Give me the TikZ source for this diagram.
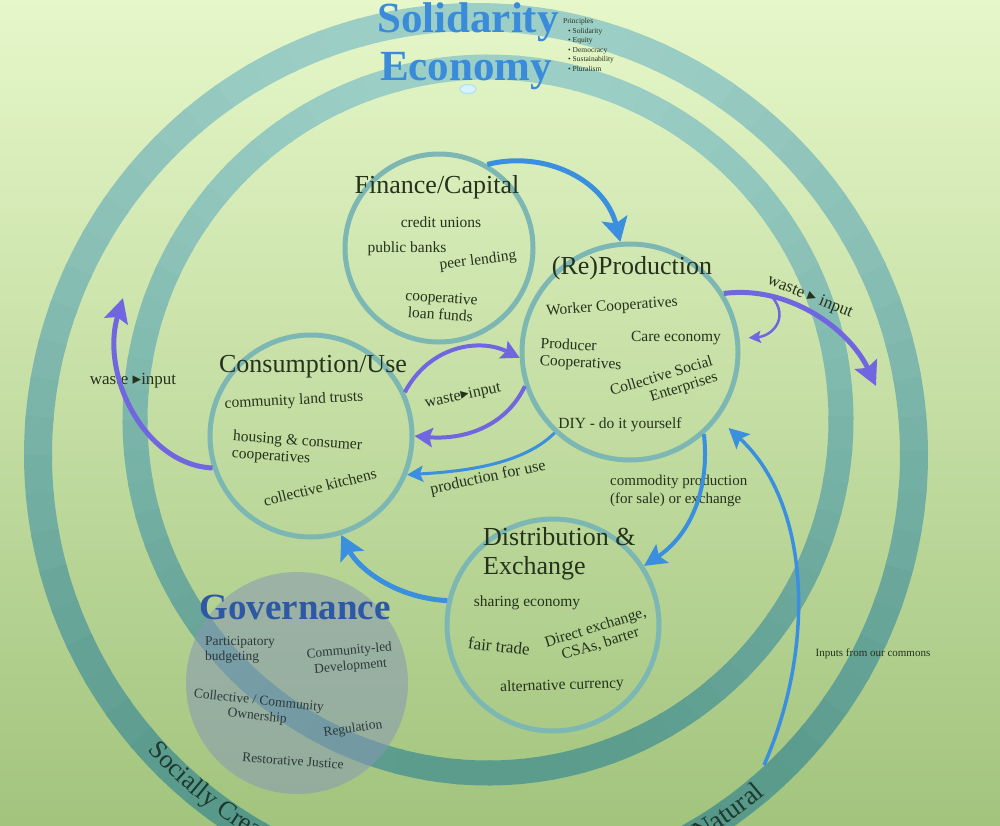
\documentclass[tikz,border=0pt]{standalone}
\usepackage{fontspec}
\usepackage{graphicx}
\setmainfont{Liberation Serif}
\newfontfamily\dejavu{DejaVu Sans}
\usetikzlibrary{arrows.meta,decorations.text,shapes.geometric}
\definecolor{bgTop}{HTML}{E6F7C9}
\definecolor{bgMid}{HTML}{D3ECB0}
\definecolor{bgBot}{HTML}{A2C47D}
\definecolor{ringTop}{HTML}{9DCFC6}
\definecolor{ringBot}{HTML}{4F9283}
\definecolor{iringTop}{HTML}{9CCFC6}
\definecolor{iringBot}{HTML}{5A9B8C}
\definecolor{secc}{HTML}{7DB7B4}
\definecolor{txtc}{HTML}{25321C}
\definecolor{bluec}{HTML}{3B8FDF}
\definecolor{purpc}{HTML}{7067E0}
\definecolor{titlec}{HTML}{3A8CDB}
\definecolor{govc}{HTML}{8698B4}
\definecolor{govt}{HTML}{2E58A6}
\definecolor{govtxt}{HTML}{2C3A3A}
\definecolor{ringtxt}{HTML}{1E3A2E}
\newcommand\tri{{\dejavu ▸}}
\begin{document}
\begin{tikzpicture}[x=1pt,y=1pt,
  txt/.style={text=txtc, inner sep=0pt},
  hd/.style={txt, font=\fontsize{26}{29}\selectfont},
  sm/.style={txt, font=\fontsize{15.5}{17}\selectfont},
  gvt/.style={text=govtxt, inner sep=0pt, font=\fontsize{13.5}{15.5}\selectfont},
  lab/.style={txt, font=\fontsize{16}{18}\selectfont},
  sec/.style={circle, draw=secc, line width=5pt, inner sep=0pt},
  bluethick/.style={draw=bluec, line width=5pt, -{Stealth[length=24pt,width=26pt,inset=5pt]}},
  bluemed/.style={draw=bluec, line width=4pt, -{Stealth[length=22pt,width=22pt,inset=4pt]}},
  bluethin/.style={draw=bluec, line width=3pt, -{Stealth[length=16pt,width=16pt,inset=3pt]}},
  bluecom/.style={draw=bluec, line width=3.5pt, -{Stealth[length=20pt,width=20pt,inset=4pt]}},
  purpthick/.style={draw=purpc, line width=5pt, -{Stealth[length=24pt,width=24pt,inset=4pt]}},
  purpmed/.style={draw=purpc, line width=4pt, -{Stealth[length=18pt,width=19pt,inset=3pt]}},
  purpthin/.style={draw=purpc, line width=2.5pt, -{Stealth[length=12pt,width=12pt,inset=2pt]}},
  ringlabel/.style={decorate, decoration={text along path, text color=ringtxt, text={#1}}}
]
\useasboundingbox (0,0) rectangle (1000,-825);
\clip (0,0) rectangle (1000,-825);
\shade[top color=bgTop, middle color=bgMid, bottom color=bgBot] (0,0) rectangle (1000,-825);

% big rings, drawn as short arcs whose colour darkens downwards
\foreach \a in {0,5,...,355}{
  \pgfmathtruncatemacro\p{max(0,min(100,((455-438*sin(\a+2.5))-17)/876*100))}
  \draw[draw=ringBot!\p!ringTop, line width=28pt]
    ([shift={(\a:438pt)}]476,-455) arc[start angle=\a, end angle=\a+5.6, radius=438pt];
  \pgfmathtruncatemacro\q{max(0,min(100,((420-353*sin(\a+2.5))-67)/706*100))}
  \draw[draw=iringBot!\q!iringTop, line width=25pt]
    ([shift={(\a:353pt)}]488,-420) arc[start angle=\a, end angle=\a+5.6, radius=353pt];
}

% ring labels
\path[ringlabel={|\fontsize{26}{26}\selectfont|Socially Created}]
  ([shift={(222:442pt)}]476,-455) arc[start angle=222, end angle=268, radius=442pt];
\path[ringlabel={|\fontsize{27}{27}\selectfont|Natural}]
  ([shift={(300:446pt)}]476,-455) arc[start angle=300, end angle=330, radius=446pt];

% governance disc
\node[circle, minimum size=222pt, fill=govc, fill opacity=0.55, inner sep=0pt] (gov) at (297,-683) {};

% section circles
\node[sec, minimum size=188pt] (fin) at (439,-248) {};
\node[sec, minimum size=216pt] (rep) at (630,-352) {};
\node[sec, minimum size=202pt] (con) at (311,-436) {};
\node[sec, minimum size=212pt] (dist) at (553,-625) {};

% title
\node[anchor=base, inner sep=0pt, text=titlec, font=\fontsize{43}{43}\selectfont\bfseries] (t1) at (468,-32) {Solidarity};
\node[anchor=base, inner sep=0pt, text=titlec, font=\fontsize{43}{43}\selectfont\bfseries] (t2) at (466,-80) {Economy};
\node[anchor=north west, inner sep=0pt, align=left, text=txtc, font=\fontsize{7.5}{9.6}\selectfont] (pr) at (563,-18)
  {Principles\\\hspace*{5pt}• Solidarity\\\hspace*{5pt}• Equity\\\hspace*{5pt}• Democracy\\\hspace*{5pt}• Sustainability\\\hspace*{5pt}• Pluralism};
\node[ellipse, minimum width=16pt, minimum height=9pt, inner sep=0pt, fill=cyan!15, draw=cyan!35!white, line width=1pt] (ic) at (468,-89) {};

% finance
\node[hd] (fint) at (437,-187) {Finance/Capital};
\node[sm] (f1) at (441,-222) {credit unions};
\node[sm] (f2) at (407,-249) {public banks};
\node[sm, rotate=7] (f3) at (478,-261) {peer lending};
\node[sm, rotate=-4, align=center] (f4) at (441,-306) {cooperative\\loan funds};

% consumption
\node[hd] (cont) at (313,-367) {Consumption/Use};
\node[sm, rotate=3] (c1) at (294,-401) {community land trusts};
\node[sm, rotate=-4, align=left] (c2) at (297,-450) {housing \& consumer\\cooperatives};
\node[sm, rotate=14] (c3) at (320,-487) {collective kitchens};

% (re)production
\node[hd] (rept) at (632,-268) {(Re)Production};
\node[sm, rotate=4] (r1) at (612,-307) {Worker Cooperatives};
\node[sm] (r2) at (676,-338) {Care economy};
\node[sm, rotate=-3, align=left] (r3) at (581,-355) {Producer\\Cooperatives};
\node[sm, rotate=17, align=right] (r4) at (664,-385) {Collective Social\\Enterprises};
\node[sm] (r5) at (620,-425) {DIY - do it yourself};

% distribution
\node[hd, anchor=west, align=left] (distt) at (483,-554) {Distribution \&\\Exchange};
\node[sm] (d1) at (527,-603) {sharing economy};
\node[txt, font=\fontsize{17}{19}\selectfont, rotate=-6] (d2) at (499,-646) {fair trade};
\node[sm, rotate=17, align=center] (d3) at (598,-636) {Direct exchange,\\CSAs, barter};
\node[sm, rotate=2] (d4) at (562,-686) {alternative currency};

% governance
\node[inner sep=0pt, text=govt, font=\fontsize{37}{37}\selectfont\bfseries] (govtitle) at (295,-607) {Governance};
\node[gvt, anchor=west, align=left] (g1) at (205,-650) {Participatory\\budgeting};
\node[gvt, rotate=5, align=center] (g2) at (350,-659) {Community-led\\Development};
\node[gvt, rotate=-6, align=center] (g3) at (258,-709) {Collective / Community\\Ownership};
\node[gvt, rotate=8] (g4) at (353,-729) {Regulation};
\node[gvt, rotate=-4] (g5) at (293,-761) {Restorative Justice};

% labels
\node[txt, font=\fontsize{17}{19}\selectfont] (lw) at (133,-381) {waste \tri input};
\node[lab, rotate=12] (lm) at (463,-396) {waste\tri input};
\node[txt, font=\fontsize{17}{19}\selectfont, rotate=-22] (lr) at (810,-297) {waste \tri\ input};
\node[lab, rotate=12] (lp) at (488,-478) {production for use};
\node[txt, font=\fontsize{15}{18}\selectfont, anchor=west, align=left] (lc) at (610,-491) {commodity production\\(for sale) or exchange};
\node[txt, font=\fontsize{11}{12}\selectfont] (li) at (873,-654) {Inputs from our commons};

% arrows
\draw[bluethick] (fin.60) .. controls (545,-150) and (605,-180) .. (rep.95);
\draw[bluemed] (rep.-48) .. controls (710,-490) and (690,-535) .. (dist.33);
\draw[bluethin] (rep.227) .. controls (520,-468) and (450,-472) .. (con.-22);
\draw[bluethick] (dist.167) .. controls (395,-598) and (358,-568) .. (con.-73);
\draw[purpmed] (con.25) .. controls (430,-345) and (480,-338) .. (rep.183);
\draw[purpmed] (rep.198) .. controls (505,-428) and (462,-440) .. (con.0);
\coordinate (wl) at (123,-298);
\draw[purpthick] (con.198) .. controls (145,-465) and (100,-375) .. (wl);
\coordinate (wr) at (876,-386);
\draw[purpthick] (rep.32) .. controls (790,-285) and (850,-330) .. (wr) coordinate[pos=0.25] (ws);
\draw[purpthin, shorten >=9pt] (ws) .. controls (790,-318) and (772,-336) .. (rep.7);
\coordinate (ci) at (764,-765);
\draw[bluecom, shorten >=14pt] (ci) .. controls (815,-650) and (812,-505) .. (rep.-37);
\end{tikzpicture}
\end{document}
